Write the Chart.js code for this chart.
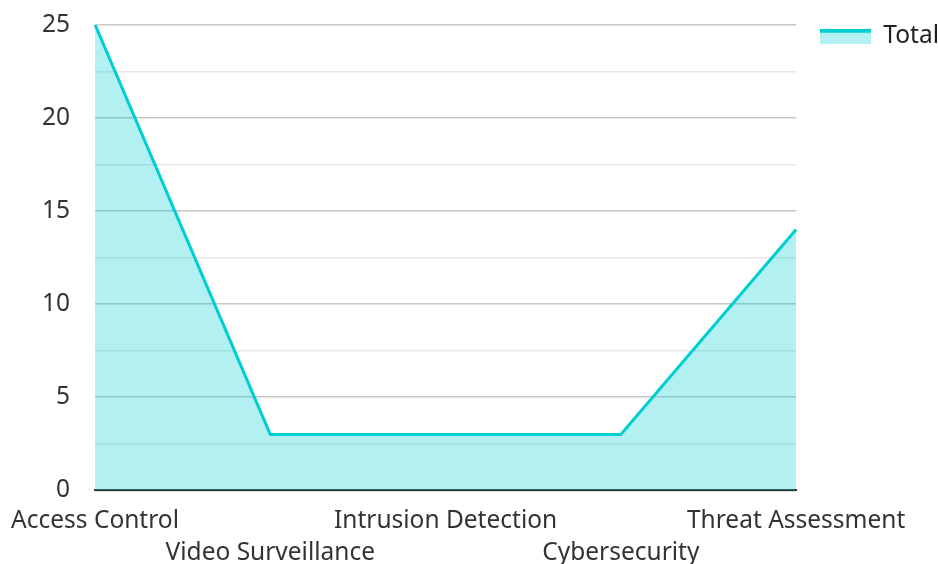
<!DOCTYPE html>
<html>
<head>
<meta charset="utf-8">
<script src="https://cdn.jsdelivr.net/npm/chart.js@4"></script>
<style>
  html, body { margin: 0; padding: 0; background: #fff; }
  #wrap { width: 938px; height: 564px; }
</style>
</head>
<body>
<div id="wrap"><canvas id="chart"></canvas></div>
<script>
const categories = ['Access Control', 'Video Surveillance', 'Intrusion Detection', 'Cybersecurity', 'Threat Assessment'];
const totals = [25, 3, 3, 3, 14];
const yTicks = [0, 5, 10, 15, 20, 25];

const lineColor = '#00CED1';
const fillColor = 'rgba(0, 206, 209, 0.3)';

// legend icon: light fill with the line along its top
const legendIcon = (() => {
  const c = document.createElement('canvas');
  c.width = 51; c.height = 15;
  const ctx = c.getContext('2d');
  ctx.fillStyle = fillColor;
  ctx.fillRect(0, 0, 51, 15);
  ctx.fillStyle = lineColor;
  ctx.fillRect(0, 0, 51, 4);
  return c;
})();

Chart.defaults.font.family = '"Noto Sans", "Open Sans", sans-serif';
Chart.defaults.font.size = 24.5;
Chart.defaults.color = '#333';

new Chart(document.getElementById('chart'), {
  type: 'line',
  data: {
    labels: categories,
    datasets: [{
      label: 'Total',
      data: totals,
      borderColor: lineColor,
      backgroundColor: fillColor,
      borderWidth: 3,
      fill: 'origin',
      pointRadius: 0,
      tension: 0,
      pointStyle: legendIcon
    }]
  },
  options: {
    responsive: true,
    maintainAspectRatio: false,
    animation: false,
    layout: { padding: { top: 0, left: 32, right: -11, bottom: -12 } },
    plugins: {
      legend: {
        position: 'right',
        align: 'start',
        labels: { usePointStyle: true, pointStyleWidth: 51, padding: 24, color: '#222' }
      },
      tooltip: { enabled: false }
    },
    scales: {
      x: {
        offset: false,
        grid: { display: false },
        border: { color: '#333', width: 2 },
        ticks: {
          maxRotation: 0,
          autoSkip: false,
          padding: 7,
          font: { lineHeight: 1.3 },
          callback: function (v, i) {
            const lbl = this.getLabelForValue(v);
            return i % 2 ? ['', lbl] : lbl;
          }
        }
      },
      y: {
        min: 0,
        max: 25,
        border: { display: false },
        grid: {
          color: ctx => (yTicks.includes(ctx.tick.value) ? '#c8c8c8' : '#e6e6e6'),
          lineWidth: 1.5,
          tickLength: 15,
          tickColor: 'rgba(0,0,0,0)'
        },
        ticks: {
          stepSize: 2.5,
          padding: 10,
          callback: v => (yTicks.includes(v) ? v : '')
        }
      }
    }
  }
});
</script>
</body>
</html>
